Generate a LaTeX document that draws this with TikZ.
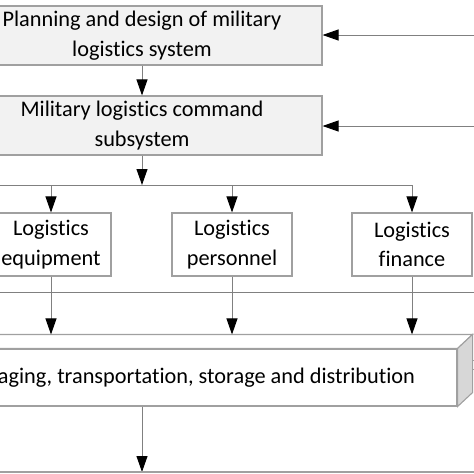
\documentclass[tikz,border=0pt]{standalone}
\usepackage{fontspec}
\setmainfont{Carlito}[Ligatures={NoCommon}]
\usepackage{xcolor}
\usetikzlibrary{arrows.meta}

\definecolor{linegray}{RGB}{128,128,128}
\definecolor{boxgray}{RGB}{160,160,160}
\definecolor{fillgray}{RGB}{242,242,242}
\definecolor{sidegray}{RGB}{215,215,215}

\tikzset{
	blk/.style={draw=boxgray, line width=1.1pt, fill=white, inner sep=0pt, align=center, font=\fontsize{22.3}{29.5}\selectfont},
	mainblk/.style={blk, fill=fillgray, minimum width=360pt, minimum height=59pt},
	subblk/.style={blk, minimum width=120pt, minimum height=63pt},
	line/.style={linegray, line width=0.9pt},
	conn/.style={line, -{Triangle[length=16pt, width=11pt, color=black]}}
}

\begin{document}
\begin{tikzpicture}[x=1pt, y=-1pt]
		\useasboundingbox (0,0) rectangle (474,474);
		\clip (0,0) rectangle (474,474);
		
		\def\xBus{185};
		\def\xLow{292};
		\def\xOut{472};
		\def\d{14};
	
		% upper blocks
		\node [mainblk] (plan) at (142,35.5) {Planning and design of military\\logistics system};
		\node [mainblk] (cmd) at (142,125.5) {Military logistics command\\subsystem};
		
		% three branches
		\node [subblk] (equip) at (51,244.5) {Logistics\\equipment};
		\node [subblk] (pers) at (232,244.5) {Logistics\\personnel};
		\node [subblk] (fin) at (412,244.5) {Logistics\\finance};
		
		% 3d block
		\node [blk, minimum width=542pt, minimum height=57pt] (pack) at (186,377.5) {Packaging, transportation, storage and distribution};
		\draw [boxgray, line width=1.1pt, fill=white] (pack.north west) -- ++(15,-\d) -- ([shift={(15,-\d)}]pack.north east) -- (pack.north east) -- cycle;
		\draw [boxgray, line width=1.1pt, fill=sidegray] (pack.north east) -- ++(15,-\d) -- ([shift={(15,-\d)}]pack.south east) -- (pack.south east) -- cycle;
		\coordinate (packtop) at ([shift={(15,-\d)}]pack.north west);
	
		\coordinate (in1) at (474,35);
		\coordinate (in2) at (474,126);
		\coordinate (split) at (142,\xBus);
		\coordinate (busL) at (0,\xBus);
		\coordinate (busR) at (412,\xBus);
		\coordinate (out) at (142,\xOut);
		
		\draw [conn] (in1) -- (in1 -| plan.east);
		\draw [conn] (in2) -- (in2 -| cmd.east);
		\draw [conn] (plan) -- (cmd);
		\draw [conn] (cmd) -- (split);
		\draw [line] (busL) -- (busR);
		\draw [conn] (equip.north |- busL) -- (equip);
		\draw [conn] (pers.north |- busL) -- (pers);
		\draw [conn] (busR) -- (fin);
		
		\draw [line] (0,\xLow) -- (474,\xLow);
		\draw [conn] (equip) -- (equip.south |- packtop);
		\draw [conn] (pers) -- (pers.south |- packtop);
		\draw [conn] (fin) -- (fin.south |- packtop);
		
		\draw [conn] (out |- pack.south) -- (out);
		\draw [line, line width=1.1pt, boxgray] (0,\xOut) -- (474,\xOut);
		\draw [line, boxgray] (472,360) -- (474,360);
		\draw [line, boxgray] (472,369) -- (474,369);
	\end{tikzpicture}
\end{document}
